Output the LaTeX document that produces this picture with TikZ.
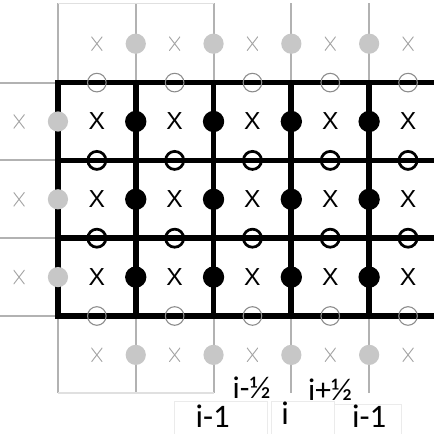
\documentclass[tikz,border=0pt]{standalone}
\usepackage{fontspec}
\setmainfont{Carlito}
\newfontfamily\xfont{Liberation Sans}
\tikzset{
  gridline/.style={draw=black, line width=2.1pt, line cap=rect},
  ghostline/.style={draw=black!30, line width=0.7pt},
  faintline/.style={draw=black!12, line width=0.4pt},
  tagbox/.style={draw=black!8, line width=0.4pt},
  pmark/.style={font=\xfont\fontsize{9}{9}\selectfont, inner sep=0pt},
  ghostx/.style={minimum width=4pt, minimum height=5.2pt, inner sep=0pt,
    path picture={\draw[black!35, line width=0.35pt]
      (path picture bounding box.north west) -- (path picture bounding box.south east)
      (path picture bounding box.south west) -- (path picture bounding box.north east);}},
  udot/.style={circle, fill=black, minimum size=7.8pt, inner sep=0pt},
  ghostdot/.style={circle, fill=black!22, minimum size=7.4pt, inner sep=0pt},
  vring/.style={circle, draw=black, line width=1pt, minimum size=6.6pt, inner sep=0pt},
  ghostring/.style={circle, draw=black!45, line width=0.4pt, minimum size=6.8pt, inner sep=0pt},
  half/.style={font=\fontsize{11.5}{12}\selectfont, inner sep=0pt},
  idx/.style={font=\fontsize{12}{12}\selectfont, inner sep=0pt}
}
\begin{document}
\begin{tikzpicture}
  \useasboundingbox (-0.745,-1.517) rectangle (4.833,4.062);
  % ghost cells
  \foreach \i in {0,...,4} \draw[ghostline] (\i,-0.99) -- (\i,4.02);
  \foreach \j in {0,...,3} \draw[ghostline] (-0.745,\j) -- (0,\j);
  \draw[faintline] (0,4.02) -- (2,4.02);
  \draw[faintline] (0,-0.99) -- (2,-0.99);
  % inner grid
  \foreach \j in {0,...,3} \draw[gridline] (0,\j) -- (4.9,\j);
  \foreach \i in {0,...,4} \draw[gridline] (\i,0) -- (\i,3);
  % pressure points
  \foreach \i in {0,...,4} {
    \foreach \j in {0,1,2} \node[pmark] (p\i\j) at (\i+0.5,\j+0.5) {X};
    \node[ghostx] (pt\i) at (\i+0.5,3.5) {};
    \node[ghostx] (pb\i) at (\i+0.5,-0.5) {};
  }
  \foreach \j in {0,1,2} \node[ghostx] (pl\j) at (-0.5,\j+0.5) {};
  % u points
  \foreach \i in {1,...,4} {
    \foreach \j in {0,1,2} \node[udot] (u\i\j) at (\i,\j+0.5) {};
    \node[ghostdot] (ut\i) at (\i,3.5) {};
    \node[ghostdot] (ub\i) at (\i,-0.5) {};
  }
  \foreach \j in {0,1,2} \node[ghostdot] (ul\j) at (0,\j+0.5) {};
  % v points
  \foreach \i in {0,...,4} {
    \node[vring] (v\i1) at (\i+0.5,1) {};
    \node[vring] (v\i2) at (\i+0.5,2) {};
    \node[ghostring] (v\i0) at (\i+0.5,0) {};
    \node[ghostring] (v\i3) at (\i+0.5,3) {};
  }
  % index labels
  \draw[tagbox] (1.50,-1.105) rectangle (2.69,-1.53);
  \draw[tagbox] (2.75,-1.105) rectangle (3.56,-1.53);
  \draw[tagbox] (3.56,-1.14) rectangle (4.42,-1.53);
  \node[half] (lm) at (2.49,-0.925) {i-½};
  \node[half] (lp) at (3.50,-0.95) {i+½};
  \node[idx] (ia) at (1.99,-1.29) {i-1};
  \node[idx] (ib) at (2.92,-1.25) {i};
  \node[idx] (ic) at (4.00,-1.29) {i-1};
\end{tikzpicture}
\end{document}
